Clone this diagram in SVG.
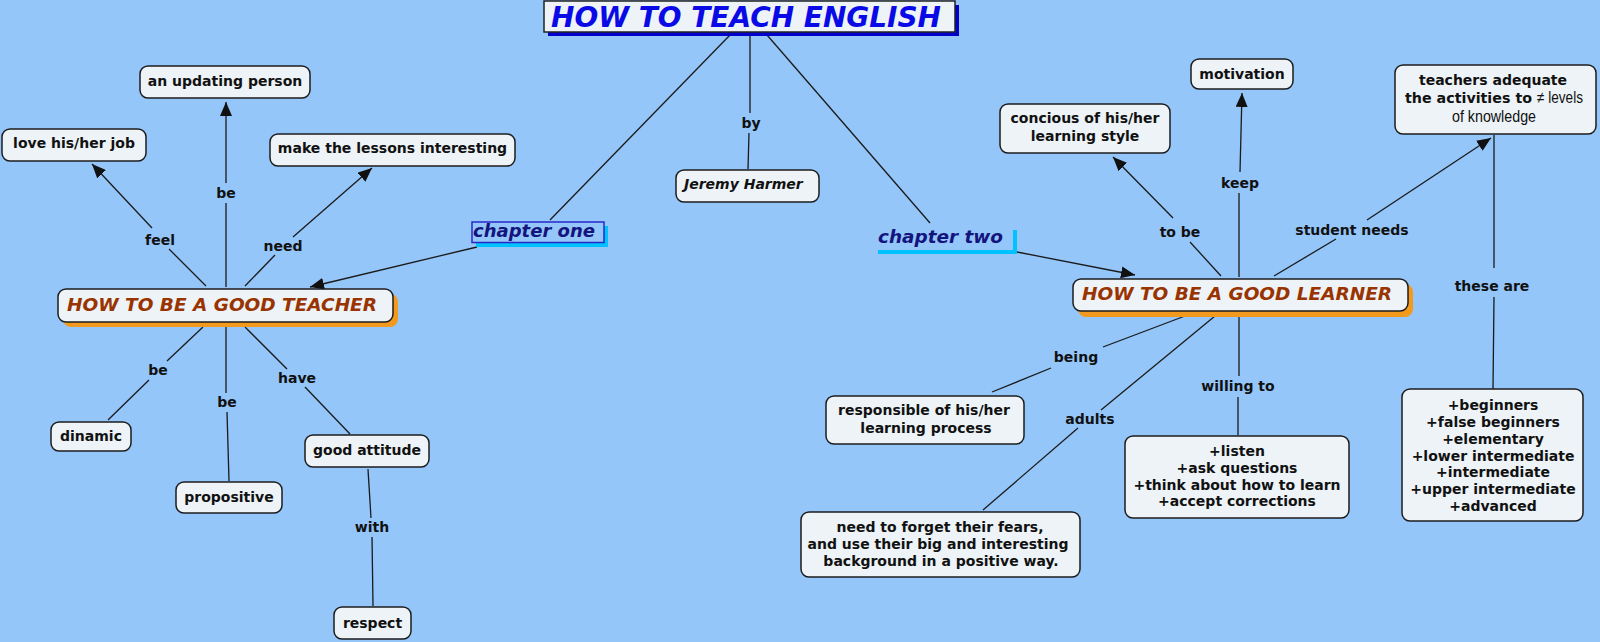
<svg xmlns="http://www.w3.org/2000/svg" width="1600" height="642" viewBox="0 0 1600 642">
<defs>
<style>
.bg{fill:#94c6fa}
.node{fill:#edf3f7;stroke:#1c1c1c;stroke-width:1.5}
.t{font-family:"DejaVu Sans",Verdana,sans-serif;font-weight:bold;font-size:14px;fill:#111}
.tc{text-anchor:middle}
.lbl{font-family:"DejaVu Sans",Verdana,sans-serif;font-weight:bold;font-size:14px;fill:#111;text-anchor:middle}
.big{font-family:"DejaVu Sans",Verdana,sans-serif;font-weight:bold;font-style:italic;font-size:18.5px;fill:#993300}
.chap{font-family:"DejaVu Sans",Verdana,sans-serif;font-weight:bold;font-style:italic;font-size:18.5px;fill:#14147e}
.narrow{font-family:"Liberation Sans Narrow","Liberation Sans",Arial,sans-serif;font-size:16px;fill:#111}
.cn line{stroke:#1a1a1a;stroke-width:1.3;fill:none}
</style>
<marker id="arr" viewBox="0 0 14 12" refX="14" refY="6" markerWidth="14" markerHeight="12" markerUnits="userSpaceOnUse" orient="auto">
<path d="M0,0 L14,6 L0,12 z" fill="#111"/>
</marker>
</defs>
<rect class="bg" x="0" y="0" width="1600" height="642"/>

<g id="connectors" class="cn">
<line x1="730" y1="35" x2="550" y2="220"/>
<line x1="750" y1="35" x2="750" y2="113"/>
<line x1="749" y1="133" x2="748" y2="169"/>
<line x1="767" y1="35" x2="930" y2="223"/>
<line x1="477" y1="247" x2="310" y2="287" marker-end="url(#arr)"/>
<line x1="1017" y1="252" x2="1135" y2="275" marker-end="url(#arr)"/>
<line x1="206" y1="286" x2="169" y2="249"/>
<line x1="152" y1="228" x2="92" y2="164" marker-end="url(#arr)"/>
<line x1="226" y1="287" x2="226" y2="203"/>
<line x1="226" y1="183" x2="226" y2="102" marker-end="url(#arr)"/>
<line x1="245" y1="286" x2="275" y2="255"/>
<line x1="293" y1="237" x2="372" y2="168" marker-end="url(#arr)"/>
<line x1="203" y1="327" x2="167" y2="361"/>
<line x1="149" y1="380" x2="108" y2="420"/>
<line x1="226" y1="327" x2="226" y2="393"/>
<line x1="227" y1="412" x2="229" y2="481"/>
<line x1="245" y1="327" x2="287" y2="369"/>
<line x1="305" y1="387" x2="350" y2="434"/>
<line x1="368" y1="469" x2="371" y2="518"/>
<line x1="372" y1="537" x2="373" y2="606"/>
<line x1="1221" y1="276" x2="1190" y2="242"/>
<line x1="1173" y1="218" x2="1113" y2="157" marker-end="url(#arr)"/>
<line x1="1239" y1="277" x2="1239" y2="193"/>
<line x1="1240" y1="172" x2="1242" y2="93" marker-end="url(#arr)"/>
<line x1="1274" y1="276" x2="1336" y2="239"/>
<line x1="1367" y1="220" x2="1491" y2="138" marker-end="url(#arr)"/>
<line x1="1494" y1="135" x2="1494" y2="268"/>
<line x1="1494" y1="297" x2="1493" y2="389"/>
<line x1="1185" y1="316" x2="1103" y2="347"/>
<line x1="1051" y1="368" x2="992" y2="392"/>
<line x1="1215" y1="316" x2="1101" y2="410"/>
<line x1="1078" y1="428" x2="983" y2="510"/>
<line x1="1239" y1="316" x2="1239" y2="376"/>
<line x1="1238" y1="397" x2="1238" y2="435"/>
<text class="lbl" x="751" y="128">by</text>
<text class="lbl" x="160" y="245">feel</text>
<text class="lbl" x="226" y="198">be</text>
<text class="lbl" x="283" y="251">need</text>
<text class="lbl" x="158" y="375">be</text>
<text class="lbl" x="227" y="407">be</text>
<text class="lbl" x="297" y="383">have</text>
<text class="lbl" x="372" y="532">with</text>
<text class="lbl" x="1180" y="237">to be</text>
<text class="lbl" x="1240" y="188">keep</text>
<text class="lbl" x="1352" y="235">student needs</text>
<text class="lbl" x="1492" y="291">these are</text>
<text class="lbl" x="1076" y="362">being</text>
<text class="lbl" x="1090" y="424">adults</text>
<text class="lbl" x="1238" y="391">willing to</text>
</g>

<g id="title">
<rect x="548" y="5" width="411" height="31" fill="#0000cc"/>
<rect x="544" y="1" width="411" height="31" fill="#edf3f7" stroke="#222" stroke-width="1.5"/>
<text x="551" y="27" font-family="DejaVu Sans, Verdana, sans-serif" font-weight="bold" font-style="italic" font-size="29" fill="#0a0ae6" textLength="390" lengthAdjust="spacingAndGlyphs">HOW TO TEACH ENGLISH</text>
</g>

<g id="jeremy">
<rect class="node" x="676" y="170" width="143" height="32" rx="8"/>
<text class="t" x="684" y="189" font-style="italic">Jeremy Harmer</text>
</g>

<g id="chapter-one">
<rect x="476" y="226" width="132" height="21" fill="#00c2ff"/>
<rect x="472" y="222" width="132" height="20.5" fill="#94c6fa" stroke="#2828c8" stroke-width="1.5"/>
<text class="chap" x="473" y="237" textLength="122" lengthAdjust="spacingAndGlyphs">chapter one</text>
</g>

<g id="chapter-two">
<path d="M878,250 H1013 V230 H1017 V254 H878 Z" fill="#00c2ff"/>
<text class="chap" x="878" y="243" textLength="125" lengthAdjust="spacingAndGlyphs">chapter two</text>
</g>

<g id="good-teacher">
<rect x="63" y="294" width="335" height="33" rx="8" fill="#f39a1e"/>
<rect class="node" x="58" y="289" width="335" height="33" rx="8"/>
<text class="big" x="67" y="311" textLength="310" lengthAdjust="spacingAndGlyphs">HOW TO BE A GOOD TEACHER</text>
</g>

<g id="updating-person">
<rect class="node" x="140" y="66" width="170" height="32" rx="8"/>
<text class="t tc" x="225" y="86">an updating person</text>
</g>

<g id="love-job">
<rect class="node" x="2" y="129" width="144" height="32" rx="8"/>
<text class="t tc" x="74" y="148">love his/her job</text>
</g>

<g id="lessons-interesting">
<rect class="node" x="270" y="134" width="245" height="32" rx="8"/>
<text class="t tc" x="392.5" y="153">make the lessons interesting</text>
</g>

<g id="dinamic">
<rect class="node" x="51" y="422" width="80" height="29" rx="8"/>
<text class="t tc" x="91" y="441">dinamic</text>
</g>

<g id="propositive">
<rect class="node" x="176" y="482" width="106" height="31" rx="8"/>
<text class="t tc" x="229" y="502">propositive</text>
</g>

<g id="good-attitude">
<rect class="node" x="305" y="435" width="124" height="32" rx="8"/>
<text class="t tc" x="367" y="455">good attitude</text>
</g>

<g id="respect">
<rect class="node" x="334" y="607" width="77" height="32" rx="8"/>
<text class="t tc" x="372.5" y="628">respect</text>
</g>

<g id="good-learner">
<rect x="1078" y="284" width="335" height="33" rx="8" fill="#f39a1e"/>
<rect class="node" x="1073" y="279" width="335" height="32" rx="8"/>
<text class="big" x="1082" y="300" textLength="310" lengthAdjust="spacingAndGlyphs">HOW TO BE A GOOD LEARNER</text>
</g>

<g id="concious">
<rect class="node" x="1000" y="104" width="170" height="49" rx="8"/>
<text class="t tc"><tspan x="1085" y="123">concious of his/her</tspan><tspan x="1085" y="141">learning style</tspan></text>
</g>

<g id="motivation">
<rect class="node" x="1191" y="59" width="102" height="30" rx="8"/>
<text class="t tc" x="1242" y="79">motivation</text>
</g>

<g id="teachers-adequate">
<rect class="node" x="1395" y="65" width="201" height="69" rx="8"/>
<text class="t tc" x="1493" y="85">teachers adequate</text>
<text class="t" x="1405" y="103" textLength="127" lengthAdjust="spacingAndGlyphs">the activities to</text>
<text class="narrow" x="1537" y="103" textLength="46" lengthAdjust="spacingAndGlyphs">≠ levels</text>
<text class="narrow" x="1452" y="122" textLength="84" lengthAdjust="spacingAndGlyphs">of knowledge</text>
</g>

<g id="levels">
<rect class="node" x="1402" y="389" width="181" height="132" rx="8"/>
<text class="t tc"><tspan x="1493" y="410">+beginners</tspan><tspan x="1493" y="427">+false beginners</tspan><tspan x="1493" y="444">+elementary</tspan><tspan x="1493" y="461">+lower intermediate</tspan><tspan x="1493" y="477">+intermediate</tspan><tspan x="1493" y="494">+upper intermediate</tspan><tspan x="1493" y="511">+advanced</tspan></text>
</g>

<g id="responsible">
<rect class="node" x="826" y="396" width="198" height="48" rx="8"/>
<text class="t tc"><tspan x="924" y="415">responsible of his/her</tspan><tspan x="926" y="433">learning process</tspan></text>
</g>

<g id="adults-need">
<rect class="node" x="801" y="512" width="279" height="65" rx="8"/>
<text class="t tc"><tspan x="940" y="532">need to forget their fears,</tspan><tspan x="938" y="549">and use their big and interesting</tspan><tspan x="941" y="566">background in a positive way.</tspan></text>
</g>

<g id="willing">
<rect class="node" x="1125" y="436" width="224" height="82" rx="8"/>
<text class="t tc"><tspan x="1237" y="456">+listen</tspan><tspan x="1237" y="473">+ask questions</tspan><tspan x="1237" y="490">+think about how to learn</tspan><tspan x="1237" y="506">+accept corrections</tspan></text>
</g>
</svg>
